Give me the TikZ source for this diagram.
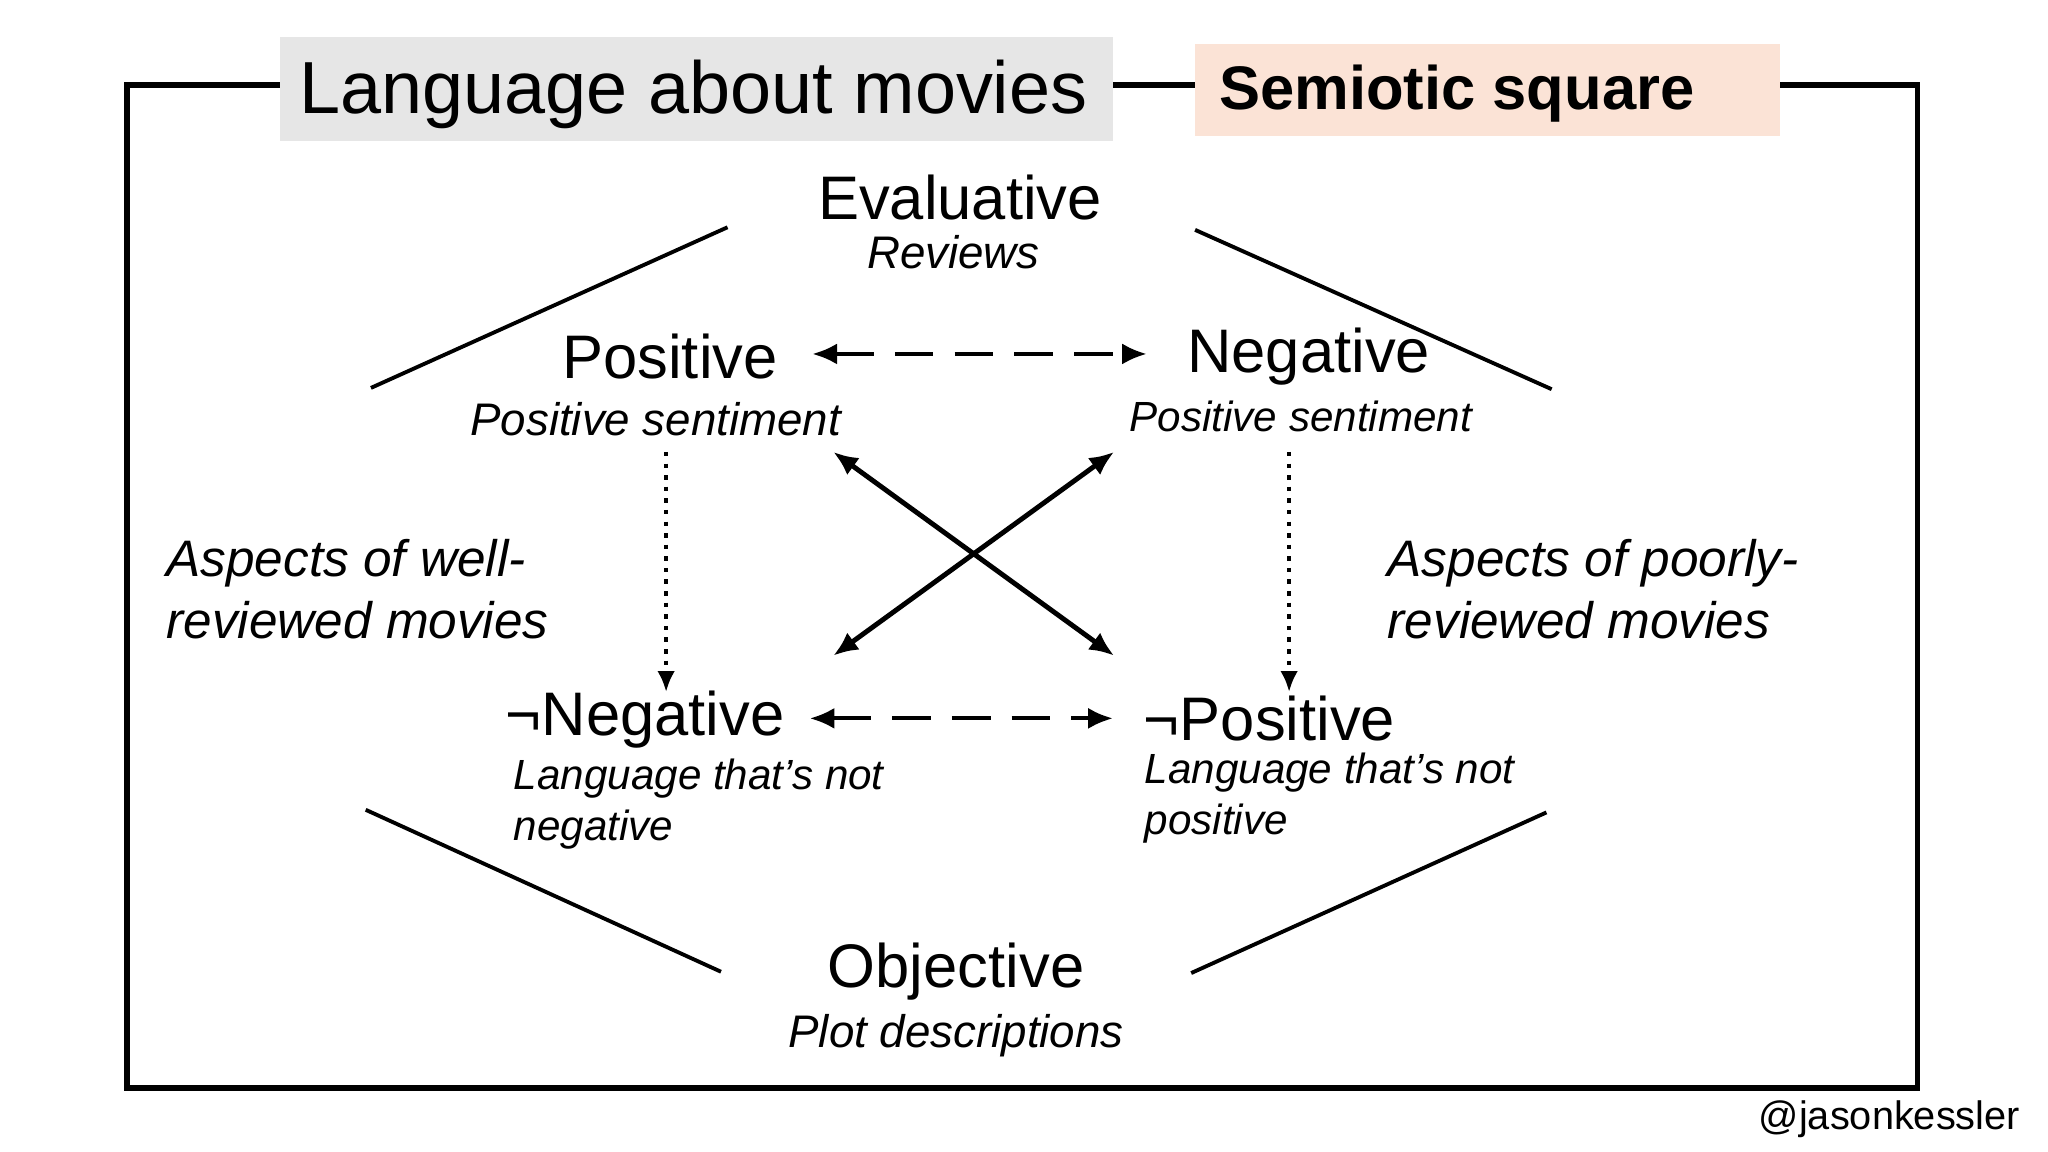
\documentclass[tikz,border=0pt]{standalone}
\usepackage{fontspec}
\setmainfont{Liberation Sans}
\usetikzlibrary{arrows.meta}
\definecolor{graybox}{HTML}{E6E6E6}
\definecolor{peach}{HTML}{FBE3D6}
\begin{document}
\begin{tikzpicture}[x=0.01306cm,y=-0.01306cm,
  big/.style={font=\fontsize{21}{24}\selectfont},
  mid/.style={font=\fontsize{17.5}{20}\selectfont},
  sub/.style={font=\fontsize{13}{15}\selectfont\itshape},
  subs/.style={font=\fontsize{12}{14.5}\selectfont\itshape, align=left},
  side/.style={font=\fontsize{14.6}{17.5}\selectfont\itshape, align=left},
  bar/.style={line width=1.1pt},
  arr/.style={line width=1.1pt,-{Latex[length=7pt,width=6pt]}},
  darr/.style={line width=1.1pt,{Latex[length=7pt,width=6pt]}-{Latex[length=7pt,width=6pt]}}]
\useasboundingbox (0,0) rectangle (1568,882);
\draw[line width=1.6pt] (97,65) rectangle (1468,833);
\fill[graybox] (214,28) rectangle (852,108);
\fill[peach] (915,34) rectangle (1363,104);
\node[big] (t1) at (531,72) {Language about movies};
\node[font=\fontsize{17.5}{21}\selectfont\bfseries,anchor=west] (t2) at (924,72) {Semiotic square};
\node[mid] (ev) at (735,151) {Evaluative};
\node[sub] (evs) at (730,193) {Reviews};
\node[mid] (pos) at (513,273) {Positive};
\node[sub] (poss) at (502,321) {Positive sentiment};
\node[mid] (neg) at (1002,273) {Negative};
\node[sub,font=\fontsize{12}{14}\selectfont\itshape] (negs) at (996,319) {Positive sentiment};
\node[mid] (nneg) at (494,551) {¬Negative};
\node[subs,anchor=west] (nnegs) at (384,616) {Language that’s not\\negative};
\node[mid] (npos) at (972,550) {¬Positive};
\node[subs,anchor=west] (nposs) at (867,611) {Language that’s not\\positive};
\node[mid] (obj) at (732,744) {Objective};
\node[sub] (objs) at (732,793) {Plot descriptions};
\node[side,anchor=west] (al) at (118,451) {Aspects of well-\\reviewed movies};
\node[side,anchor=west] (ar) at (1053,451) {Aspects of poorly-\\reviewed movies};
\node[font=\fontsize{11.3}{13}\selectfont,anchor=east] (tag) at (1556,857) {@jasonkessler};
\draw[bar] (284,297) -- (557,174);
\draw[bar] (915,176) -- (1188,298);
\draw[bar] (280,620) -- (552,744);
\draw[bar] (912,745) -- (1184,622);
\coordinate (a1) at (622,271); \coordinate (a2) at (878,271);
\coordinate (b1) at (620,550); \coordinate (b2) at (852,550);
\draw[darr,dash pattern=on 11pt off 6pt] (a1) -- (a2);
\draw[darr,dash pattern=on 11pt off 6pt] (b1) -- (b2);
\coordinate (c1) at (510,346); \coordinate (c2) at (510,530);
\coordinate (d1) at (987,346); \coordinate (d2) at (987,530);
\draw[arr,line width=1.3pt,dotted,-{Latex[length=6pt,width=5pt]}] (c1) -- (c2);
\draw[arr,line width=1.3pt,dotted,-{Latex[length=6pt,width=5pt]}] (d1) -- (d2);
\coordinate (e1) at (638,346); \coordinate (e2) at (853,502);
\coordinate (f1) at (853,346); \coordinate (f2) at (638,502);
\draw[darr,line width=1.4pt] (e1) -- (e2);
\draw[darr,line width=1.4pt] (f1) -- (f2);
\end{tikzpicture}
\end{document}
